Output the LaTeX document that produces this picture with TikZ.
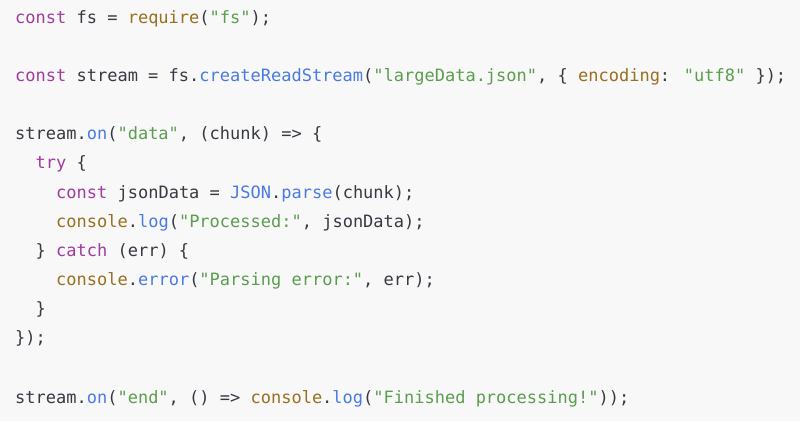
\documentclass[tikz,border=0pt]{standalone}
\usepackage{fontspec}
\newfontfamily\codefont{DejaVu Sans Mono}
\definecolor{bgc}{HTML}{F8F8F8}
\definecolor{txt}{HTML}{383A42}
\definecolor{kw}{HTML}{A13BA0}
\definecolor{fn}{HTML}{4A7BE0}
\definecolor{st}{HTML}{5A9E4E}
\definecolor{bn}{HTML}{98701F}
\newcommand{\K}[1]{\textcolor{kw}{#1}}
\newcommand{\F}[1]{\textcolor{fn}{#1}}
\newcommand{\Sx}[1]{\textcolor{st}{#1}}
\newcommand{\B}[1]{\textcolor{bn}{#1}}
\begin{document}
\begin{tikzpicture}[x=1pt,y=1pt,
  ln/.style={anchor=base west,inner sep=0pt,font=\codefont\fontsize{17}{20}\selectfont,text=txt}]
\fill[bgc] (0,0) rectangle (800,421);
\useasboundingbox (0,0) rectangle (800,421);
\def\cw{10.25}
\node[ln] (l1) at (15,397) {\K{const} fs = \B{require}(\Sx{"fs"});};
\node[ln] (l2) at (15,339) {\K{const} stream = fs.\F{createReadStream}(\Sx{"largeData.json"}, \{ \B{encoding}: \Sx{"utf8"} \});};
\node[ln] (l3) at (15,281) {stream.\F{on}(\Sx{"data"}, (chunk) => \{};
\node[ln] (l4) at (15+2*\cw,252) {\K{try} \{};
\node[ln] (l5) at (15+4*\cw,223) {\K{const} jsonData = \F{JSON}.\F{parse}(chunk);};
\node[ln] (l6) at (15+4*\cw,194) {\B{console}.\F{log}(\Sx{"Processed:"}, jsonData);};
\node[ln] (l7) at (15+2*\cw,165) {\} \K{catch} (err) \{};
\node[ln] (l8) at (15+4*\cw,136) {\B{console}.\F{error}(\Sx{"Parsing error:"}, err);};
\node[ln] (l9) at (15+2*\cw,107) {\}};
\node[ln] (l10) at (15,78) {\});};
\node[ln] (l11) at (15,18) {stream.\F{on}(\Sx{"end"}, () => \B{console}.\F{log}(\Sx{"Finished processing!"}));};
\end{tikzpicture}
\end{document}
